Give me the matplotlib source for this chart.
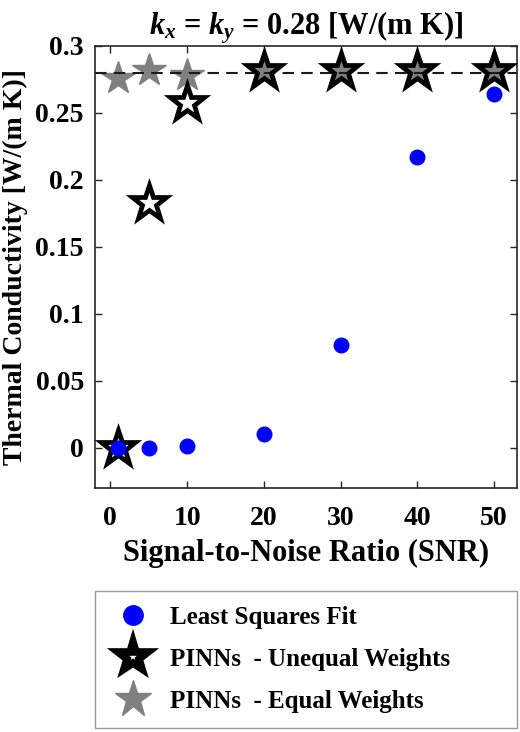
import numpy as np
import matplotlib.pyplot as plt
from matplotlib.lines import Line2D
from matplotlib.markers import MarkerStyle

plt.rcParams['font.family'] = 'Liberation Serif'
plt.rcParams['font.weight'] = 'bold'
plt.rcParams['mathtext.fontset'] = 'custom'
plt.rcParams['mathtext.rm'] = 'Liberation Serif:bold'
plt.rcParams['mathtext.it'] = 'Liberation Serif:italic:bold'
plt.rcParams['mathtext.bf'] = 'Liberation Serif:bold'

# data
snr = [1, 5, 10, 20, 30, 40, 50]
k_lsq = [0.0, 0.0, 0.001, 0.0102, 0.0767, 0.217, 0.264]
k_unequal = [0.0, 0.183, 0.2577, 0.2815, 0.2815, 0.2815, 0.2815]
k_equal = [0.276, 0.282, 0.278, 0.281, 0.281, 0.281, 0.281]
k_true = 0.28

star = MarkerStyle('*', joinstyle='miter')

fig = plt.figure(figsize=(5.2, 7.32), dpi=100)
ax = fig.add_axes([0.1827, 0.3333, 0.8115, 0.6039])

ax.plot(snr, k_equal, ls='none', marker=star, ms=25, color='#808080',
        mec='#808080', zorder=2)
ax.axhline(k_true, color='#1a1a1a', ls=(0, (5.5, 3.5)), lw=1.5, zorder=2.5)
ax.plot(snr, k_unequal, ls='none', marker=star, ms=26, mfc='none',
        mec='k', mew=3.4, zorder=3)
ax.plot(snr, k_lsq, ls='none', marker='o', ms=10.5, color='#0000ff',
        mec='#0000ff', zorder=4)

ax.set_xlim(-2, 53)
ax.set_ylim(-0.03, 0.3)
ax.set_xticks([0, 10, 20, 30, 40, 50])
ax.set_yticks([0, 0.05, 0.1, 0.15, 0.2, 0.25, 0.3])
ax.set_yticklabels(['0', '0.05', '0.1', '0.15', '0.2', '0.25', '0.3'])
ax.tick_params(direction='in', top=True, right=True, labelsize=20,
               length=5, width=1, color='#262626')
ax.tick_params(axis='x', pad=13)
ax.tick_params(axis='y', pad=8)
for s in ax.spines.values():
    s.set_color('#262626')
    s.set_linewidth(1.2)

ax.set_xlabel('Signal-to-Noise Ratio (SNR)', fontsize=22, fontweight='bold', labelpad=6)
ax.set_ylabel('Thermal Conductivity [W/(m K)]', fontsize=20, fontweight='bold', labelpad=5)
ax.set_title('$k_x$ = $k_y$ = 0.28 [W/(m K)]', fontsize=22, fontweight='bold', pad=8)

# legend handles (markers drawn bigger in the legend, as in the original)
h_ls = Line2D([], [], ls='none', marker='o', ms=14, color='#0000ff', mec='#0000ff')
h_un = Line2D([], [], ls='none', marker=star, ms=22, mfc='none', mec='k', mew=5.5)
h_eq = Line2D([], [], ls='none', marker=star, ms=28, color='#808080', mec='#808080')
leg = fig.legend([h_ls, h_un, h_eq],
                 ['Least Squares Fit', 'PINNs  - Unequal Weights', 'PINNs  - Equal Weights'],
                 loc='upper left', mode='expand',
                 bbox_to_anchor=(0.1827, 0.0, 0.8115, 0.1926),
                 borderaxespad=0, fontsize=18, frameon=True, fancybox=False,
                 edgecolor='#808080', handlelength=1.85, handletextpad=0.55,
                 labelspacing=0.75, borderpad=0.6)
leg.get_frame().set_linewidth(1.0)

fig.savefig('out.png', dpi=100)
